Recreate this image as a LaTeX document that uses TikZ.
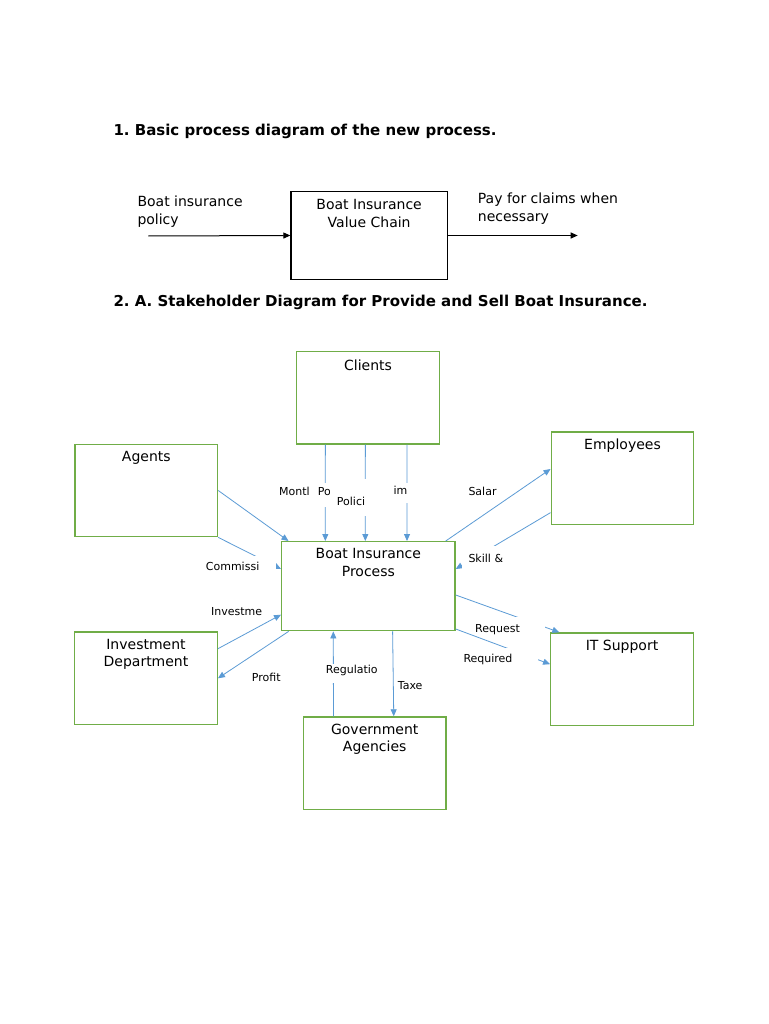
\documentclass[tikz,border=0pt]{standalone}
\usepackage{fontspec}
\setmainfont{DejaVu Sans}
\usetikzlibrary{positioning,arrows.meta}
\frenchspacing
\definecolor{boxgreen}{HTML}{70AD47}
\definecolor{linkblue}{HTML}{5B9BD5}
\newcommand{\bodyfont}{\fontsize{14}{17.5}\selectfont}
\newcommand{\tagfont}{\fontsize{11}{13}\selectfont}
\newcommand{\headfont}{\fontsize{15}{18}\selectfont\bfseries}

\begin{document}
\begin{tikzpicture}[x=1pt, y=-1pt, >={Triangle[length=7pt,width=6pt]},
    chainbox/.style={draw=black, line width=1.3pt, minimum width=156.3pt, minimum height=87.6pt, inner sep=0pt},
    party/.style={draw=boxgreen, line width=1.4pt, minimum width=142.5pt, minimum height=92.4pt, inner sep=0pt},
    boxtext/.style={inner sep=0pt, align=center, font=\bodyfont},
    link/.style={->, draw=linkblue, line width=0.8pt},
    tag/.style={fill=white, inner xsep=2pt, inner ysep=0pt, anchor=base west, align=left, font=\tagfont, text height=9pt, text depth=3pt}]
        \fill[white] (0,0) rectangle (768,1024);
        \useasboundingbox (0,0) rectangle (768,1024);

        % headings
        \node[inner sep=0pt, anchor=base west, font=\headfont] (headOne) at (113.3,135.7) {1. Basic process diagram of the new process.};
        \node[inner sep=0pt, anchor=base west, font=\headfont] (headTwo) at (113.3,306) {2. A. Stakeholder Diagram for Provide and Sell Boat Insurance.};

        % basic process
        \node[chainbox] (chain) at (369.15,235.5) {};
        \node[boxtext, below=8.5pt of chain.north] (chainText) {Boat Insurance\\Value Chain};
        \node[inner sep=0pt, anchor=north west, align=left, font=\bodyfont] (policyText) at (137.3,195.7) {Boat insurance\\policy};
        \node[inner sep=0pt, anchor=north west, align=left, font=\bodyfont] (claimsText) at (477.7,193) {Pay for claims when\\necessary};
        \coordinate (policyIn) at (148.3,236);
        \coordinate (claimsOut) at (577.7,235.5);
        \draw[->, line width=1pt] (policyIn) -- (chain.west);
        \draw[->, line width=1pt] (chain.east) -- (claimsOut);

        % stakeholder boxes
        \node[party] (clients) at (368,397.8) {};
        \node[party] (agents) at (146.3,490.5) {};
        \node[party] (employees) at (622.5,478) {};
        \node[party, minimum width=173.3pt, minimum height=89pt] (process) at (368.35,586.2) {};
        \node[party] (invest) at (146,678.3) {};
        \node[party] (itsupport) at (622,679.2) {};
        \node[party] (govt) at (374.7,763.2) {};

        \node[boxtext, below=8.5pt of clients.north] (clientsText) {Clients};
        \node[boxtext, below=7.5pt of agents.north] (agentsText) {Agents};
        \node[boxtext, below=8pt of employees.north] (employeesText) {Employees};
        \node[boxtext, below=7.5pt of process.north] (processText) {Boat Insurance\\Process};
        \node[boxtext, below=7.5pt of invest.north] (investText) {Investment\\Department};
        \node[boxtext, below=7.5pt of itsupport.north] (itsupportText) {IT Support};
        \node[boxtext, below=7.5pt of govt.north] (govtText) {Government\\Agencies};

        % connectors
        \foreach \cx/\px in {29.3/44.3, 69.3/84.3, 111/126}
            \draw[link] ([xshift=\cx pt]clients.south west) -- ([xshift=\px pt]process.north west);
        \draw[link] (agents.east) -- ([xshift=7.5pt]process.north west);
        \draw[link] (agents.south east) -- ([yshift=-28pt]process.north west);
        \draw[link] ([xshift=-10pt]process.north east) -- ([yshift=9pt]employees.west);
        \draw[link] ([yshift=12.3pt]employees.south west) -- ([yshift=-28pt]process.north east);
        \draw[link] ([yshift=-8.8pt]process.east) -- ([xshift=9.3pt]itsupport.north west);
        \draw[link] ([yshift=2.4pt]process.south east) -- ([yshift=15pt]itsupport.west);
        \draw[link] ([yshift=-17.3pt]invest.north east) -- ([yshift=16.7pt]process.south west);
        \draw[link] ([xshift=7.6pt]process.south west) -- (invest.east);
        \draw[link] ([xshift=30.7pt]govt.north west) -- ([xshift=52.3pt]process.south west);
        \draw[link] ([xshift=111.6pt]process.south west) -- ([xshift=91pt]govt.north west);

        % labels on the connectors
        \node[tag] (montlTag) at (277,495.7) {Montl};
        \node[tag, text height=12.7pt, text depth=11.3pt] (poliTag) at (315.7,495.7) {Poli};
        \node[tag, inner xsep=6.7pt, text height=26.7pt, text depth=10.3pt] (policiTag) at (330,505.7) {Polici};
        \node[tag, text width=17pt, text height=11.3pt, text depth=8.7pt] (imTag) at (391.3,494.3) {im};
        \node[tag] (salarTag) at (466.3,495) {Salar};
        \node[tag, text width=68pt, text height=14pt] (commissiTag) at (203.7,570) {Commissi};
        \node[tag, inner xsep=6.3pt, text width=55pt, text height=16.7pt, text depth=7pt] (skillTag) at (462,562.7) {Skill \&};
        \node[tag, text width=68pt, text height=15.7pt, text depth=2pt] (requestTag) at (473,632.7) {Request};
        \node[tag, text width=72.7pt, text height=14.7pt, text depth=4pt] (requiredTag) at (461.3,662.7) {Required};
        \node[tag] (investmeTag) at (209,615) {Investme};
        \node[tag] (profitTag) at (249.7,681.7) {Profit};
        \node[tag, text height=9.3pt, text depth=10pt] (regulatioTag) at (323.7,673.3) {Regulatio};
        \node[tag, inner xsep=1.5pt] (taxeTag) at (396.2,689.3) {Taxe};
    \end{tikzpicture}
\end{document}
